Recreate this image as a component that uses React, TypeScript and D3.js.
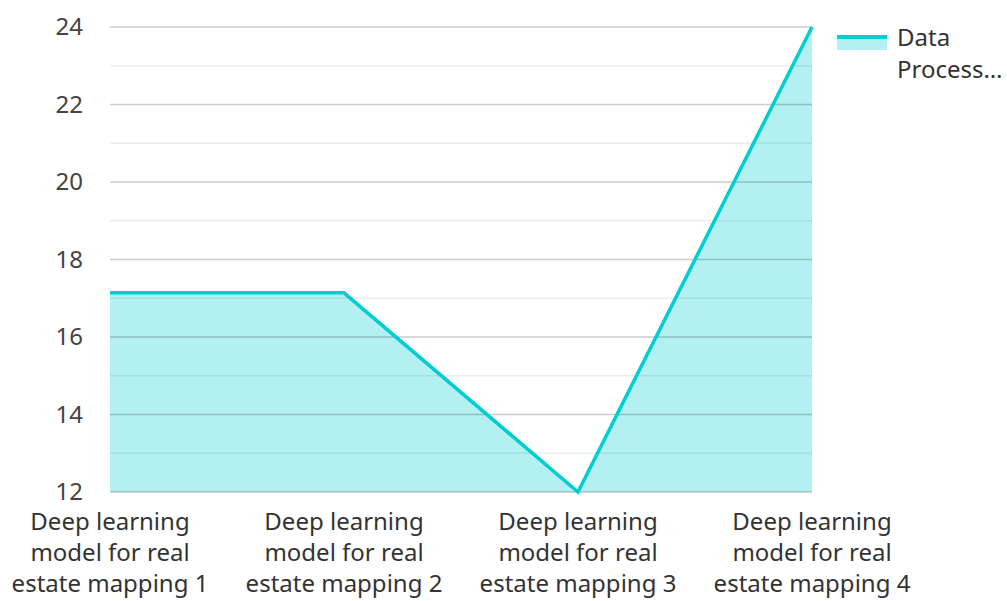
import React from "react";
import * as d3 from "d3";

const categories = [
  "Deep learning model for real estate mapping 1",
  "Deep learning model for real estate mapping 2",
  "Deep learning model for real estate mapping 3",
  "Deep learning model for real estate mapping 4",
];
const categoryLines = [
  ["Deep learning", "model for real", "estate mapping 1"],
  ["Deep learning", "model for real", "estate mapping 2"],
  ["Deep learning", "model for real", "estate mapping 3"],
  ["Deep learning", "model for real", "estate mapping 4"],
];
const values = [17.14, 17.14, 12, 24];
const majorTicks = [12, 14, 16, 18, 20, 22, 24];
const minorTicks = [13, 15, 17, 19, 21, 23];
const seriesName = ["Data", "Process…"];

const W = 1007;
const H = 601;
const left = 110;
const right = 812;
const top = 27;
const bottom = 492;
const color = "#00CED1";
const font = "'Noto Sans', 'Open Sans', sans-serif";

export default function App() {
  const x = d3.scalePoint<string>().domain(categories).range([left, right]);
  const y = d3.scaleLinear().domain([12, 24]).range([bottom, top]);
  const pts = values.map((v, i) => [x(categories[i]) as number, y(v)] as [number, number]);
  const line = d3.line<[number, number]>().x((d) => d[0]).y((d) => d[1])(pts) || "";
  const area =
    d3
      .area<[number, number]>()
      .x((d) => d[0])
      .y0(bottom)
      .y1((d) => d[1])(pts) || "";
  return (
    <svg
      width={W}
      height={H}
      style={{ position: "absolute", left: 0, top: 0 }}
      fontFamily={font}
    >
      <path d={area} fill={color} fillOpacity={0.3} />
      {minorTicks.map((t) => (
        <line key={"m" + t} x1={left} x2={right} y1={y(t)} y2={y(t)} stroke="#000" strokeOpacity={0.07} strokeWidth={1.5} />
      ))}
      {majorTicks.map((t) => (
        <line key={"M" + t} x1={left} x2={right} y1={y(t)} y2={y(t)} stroke="#000" strokeOpacity={0.2} strokeWidth={1.5} />
      ))}
      <path d={line} fill="none" stroke={color} strokeWidth={3.5} strokeLinejoin="miter" />
      {majorTicks.map((t) => (
        <text key={"l" + t} x={83} y={y(t)} dy="0.35em" textAnchor="end" fontSize={24} fill="#444">
          {t}
        </text>
      ))}
      {categories.map((c, i) => (
        <text key={c} x={x(c) as number} textAnchor="middle" fontSize={24} fill="#333">
          {categoryLines[i].map((ln, j) => (
            <tspan key={j} x={x(c) as number} y={530 + j * 31}>
              {ln}
            </tspan>
          ))}
        </text>
      ))}
      <rect x={837} y={37} width={50} height={13} fill={color} fillOpacity={0.3} />
      <line x1={837} x2={887} y1={37} y2={37} stroke={color} strokeWidth={4} />
      <text x={897} fontSize={24} fill="#333">
        <tspan x={897} y={46}>{seriesName[0]}</tspan>
        <tspan x={897} y={78}>{seriesName[1]}</tspan>
      </text>
    </svg>
  );
}
